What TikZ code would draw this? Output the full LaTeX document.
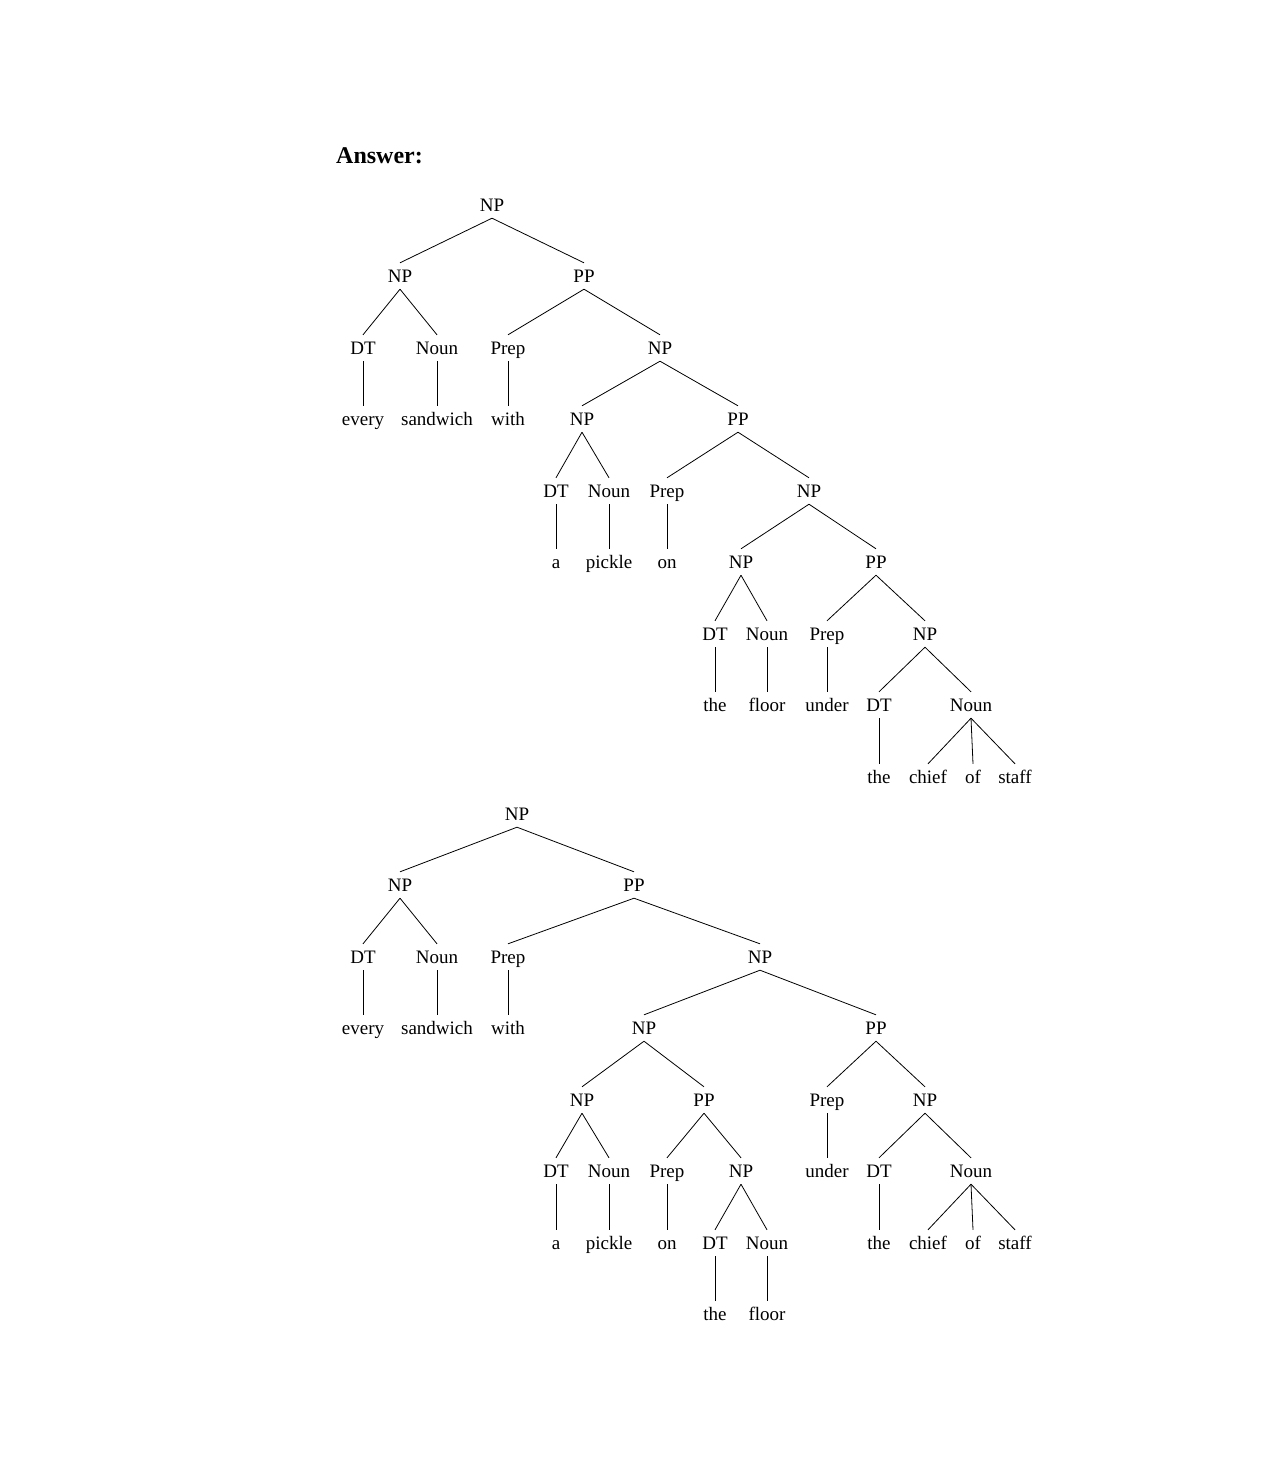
\documentclass[tikz,border=0pt]{standalone}
\usepackage{fontspec}
\setmainfont{Liberation Serif}
\begin{document}
\begin{tikzpicture}[x=1pt,y=-1pt,
  lab/.style={font=\fontsize{19}{22}\selectfont, inner sep=0pt, text height=19pt, text depth=7pt, anchor=base, yshift=-6pt},
  edge/.style={line width=0.8pt, black},
  title/.style={font=\fontsize{24}{28}\selectfont\bfseries, inner sep=0pt, anchor=base west}]
\useasboundingbox (0,0) rectangle (1272,1476);
\node[title] (ans) at (336,163) {Answer:};
% ---------- Tree 1 ----------
\node[lab] (a0) at (492,205) {NP};
\node[lab] (a1) at (400,276) {NP};
\node[lab] (a2) at (584,276) {PP};
\node[lab] (a3) at (363,348) {DT};
\node[lab] (a4) at (437,348) {Noun};
\node[lab] (a5) at (508,348) {Prep};
\node[lab] (a6) at (660,348) {NP};
\node[lab] (a7) at (363,419) {every};
\node[lab] (a8) at (437,419) {sandwich};
\node[lab] (a9) at (508,419) {with};
\node[lab] (a10) at (582,419) {NP};
\node[lab] (a11) at (738,419) {PP};
\node[lab] (a12) at (556,491) {DT};
\node[lab] (a13) at (609,491) {Noun};
\node[lab] (a14) at (667,491) {Prep};
\node[lab] (a15) at (809,491) {NP};
\node[lab] (a16) at (556,562) {a};
\node[lab] (a17) at (609,562) {pickle};
\node[lab] (a18) at (667,562) {on};
\node[lab] (a19) at (741,562) {NP};
\node[lab] (a20) at (876,562) {PP};
\node[lab] (a21) at (715,634) {DT};
\node[lab] (a22) at (767,634) {Noun};
\node[lab] (a23) at (827,634) {Prep};
\node[lab] (a24) at (925,634) {NP};
\node[lab] (a25) at (715,705) {the};
\node[lab] (a26) at (767,705) {floor};
\node[lab] (a27) at (827,705) {under};
\node[lab] (a28) at (879,705) {DT};
\node[lab] (a29) at (971,705) {Noun};
\node[lab] (a30) at (879,777) {the};
\node[lab] (a31) at (928,777) {chief};
\node[lab] (a32) at (973,777) {of};
\node[lab] (a33) at (1015,777) {staff};
\foreach \p/\c in {a0/a1,a0/a2,a1/a3,a1/a4,a2/a5,a2/a6,a3/a7,a4/a8,a5/a9,a6/a10,a6/a11,
  a10/a12,a10/a13,a11/a14,a11/a15,a12/a16,a13/a17,a14/a18,a15/a19,a15/a20,
  a19/a21,a19/a22,a20/a23,a20/a24,a21/a25,a22/a26,a23/a27,a24/a28,a24/a29,
  a28/a30,a29/a31,a29/a32,a29/a33}
  \draw[edge] (\p.south) -- (\c.north);
% ---------- Tree 2 ----------
\node[lab] (b0) at (517,814) {NP};
\node[lab] (b1) at (400,885) {NP};
\node[lab] (b2) at (634,885) {PP};
\node[lab] (b3) at (363,957) {DT};
\node[lab] (b4) at (437,957) {Noun};
\node[lab] (b5) at (508,957) {Prep};
\node[lab] (b6) at (760,957) {NP};
\node[lab] (b7) at (363,1028) {every};
\node[lab] (b8) at (437,1028) {sandwich};
\node[lab] (b9) at (508,1028) {with};
\node[lab] (b10) at (644,1028) {NP};
\node[lab] (b11) at (876,1028) {PP};
\node[lab] (b12) at (582,1100) {NP};
\node[lab] (b13) at (704,1100) {PP};
\node[lab] (b14) at (827,1100) {Prep};
\node[lab] (b15) at (925,1100) {NP};
\node[lab] (b16) at (556,1171) {DT};
\node[lab] (b17) at (609,1171) {Noun};
\node[lab] (b18) at (667,1171) {Prep};
\node[lab] (b19) at (741,1171) {NP};
\node[lab] (b20) at (827,1171) {under};
\node[lab] (b21) at (879,1171) {DT};
\node[lab] (b22) at (971,1171) {Noun};
\node[lab] (b23) at (556,1243) {a};
\node[lab] (b24) at (609,1243) {pickle};
\node[lab] (b25) at (667,1243) {on};
\node[lab] (b26) at (715,1243) {DT};
\node[lab] (b27) at (767,1243) {Noun};
\node[lab] (b28) at (879,1243) {the};
\node[lab] (b29) at (928,1243) {chief};
\node[lab] (b30) at (973,1243) {of};
\node[lab] (b31) at (1015,1243) {staff};
\node[lab] (b32) at (715,1314) {the};
\node[lab] (b33) at (767,1314) {floor};
\foreach \p/\c in {b0/b1,b0/b2,b1/b3,b1/b4,b2/b5,b2/b6,b3/b7,b4/b8,b5/b9,b6/b10,b6/b11,
  b10/b12,b10/b13,b11/b14,b11/b15,b12/b16,b12/b17,b13/b18,b13/b19,b14/b20,b15/b21,b15/b22,
  b16/b23,b17/b24,b18/b25,b19/b26,b19/b27,b21/b28,b22/b29,b22/b30,b22/b31,b26/b32,b27/b33}
  \draw[edge] (\p.south) -- (\c.north);
\end{tikzpicture}
\end{document}
